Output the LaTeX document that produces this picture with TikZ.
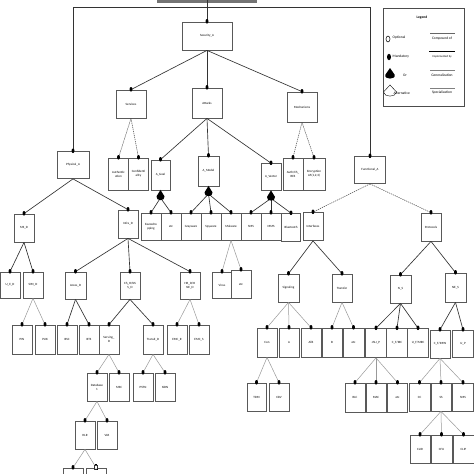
\documentclass[tikz,border=0pt]{standalone}
\usepackage{fontspec}
\setmainfont{Carlito}
\usetikzlibrary{calc}
\tikzset{
 box/.style={draw=black!65, line width=0.8pt, fill=white, inner sep=0.3pt, align=center, font=\fontsize{3.2}{3.9}\selectfont},
 dk/.style={draw=black!80, line width=0.65pt},
 lt/.style={draw=black!40, line width=0.5pt},
 dsh/.style={draw=black!70, line width=0.55pt, dash pattern=on 1.2pt off 0.9pt},
 lg/.style={font=\fontsize{3.6}{4.2}\selectfont, inner sep=0.5pt}
}
\newcommand\bx[6]{\node[box, minimum width=#4pt, minimum height=#5pt] (#1) at (#2,#3) {#6};}
\newcommand\mand[1]{\fill[black] ($(#1.north)+(0,-0.3)$) ellipse (1.5pt and 2.3pt);}
\newcommand\orpt[1]{\coordinate (#1-or) at ($(#1.south)+(0,7.5)$);}
\newcommand\ormark[1]{\fill[black] ($(#1.south)+(0,-0.5)$) -- ++(-4,6.5) .. controls +(-1,5) and +(1,5) .. ++(8,0) -- cycle;}
\begin{document}
\begin{tikzpicture}[x=1pt,y=-1pt]
\clip (0,0) rectangle (474,474);
\fill[white] (0,0) rectangle (474,474);
% frame
\fill[black!55] (157,0) rectangle (257,3);
\coordinate (top) at (207,0);
\coordinate (fl) at (73,7);
\coordinate (fr) at (370,7);
\draw[dk] (fl) -- (fr);
% level 1
\bx{sec}{207}{36}{50}{28}{Security\_A}
\bx{serv}{131}{104}{30}{28}{Services}
\bx{att}{207}{103}{30}{30}{Attacks}
\bx{mech}{302}{107}{30}{30}{Mechanisms}
\bx{phys}{73}{165}{32}{27}{Physical\_A}
\bx{func}{370}{170}{31}{27}{Functional\_A}
% level 2
\bx{auth}{118.5}{174}{20}{32}{Authentic\\ation}
\bx{conf}{138.5}{174}{20}{32}{Confidenti\\ality}
\bx{agoal}{160.5}{175}{19}{30}{A\_Goal}
\bx{amodel}{208.5}{171}{21}{30}{A\_Model}
\bx{avec}{271}{177}{20}{27}{A\_Vector}
\bx{authch}{293}{174}{20}{32}{Auth/Ch\_\\RES}
\bx{enc}{314}{174}{22}{32}{Encryption\\A5(1,2,3)}
% level 3
\bx{msd}{24}{228}{20}{28}{MS\_D}
\bx{infra}{128}{224}{20}{28}{Infra\_D}
\bx{eaves}{151}{226.5}{20}{27}{Eavesdro\\pping}
\bx{etca}{171}{226.5}{20}{27}{etc}
\bx{gray}{191}{226.5}{20}{27}{Grayware}
\bx{spy}{211}{226.5}{20}{27}{Spyware}
\bx{mal}{231}{226.5}{20}{27}{Malware}
\bx{sms}{251}{226.5}{20}{27}{SMS}
\bx{mms}{271}{226.5}{20}{27}{MMS}
\bx{blue}{291}{227.5}{19}{28}{Bluetooth}
\bx{iface}{313}{226.5}{20}{28}{Interfaces}
\bx{proto}{431}{227}{20}{28}{Protocols}
% level 4
\bx{ued}{10}{285}{20}{26}{U\_E\_D}
\bx{simd}{33}{285}{20}{26}{SIM\_D}
\bx{acces}{75.5}{285.5}{21}{27}{Acces\_D}
\bx{ch}{130}{285.5}{20}{27}{Ch\_O/NS\\S\_D}
\bx{hr}{190}{285.5}{20}{27}{HR\_D/O\\NE\_D}
\bx{virus}{222}{285}{20}{26}{Virus}
\bx{etcb}{241}{284}{20}{28}{etc}
\bx{sig}{288.5}{288}{21}{28}{Signaling}
\bx{trans}{342}{288}{20}{28}{Transfer}
\bx{ns}{400.5}{289}{21}{28}{N\_S}
\bx{nes}{455.5}{287.5}{21}{29}{NE\_S}
% level 5
\bx{pin}{22}{339.5}{20}{29}{PIN}
\bx{puk}{45}{339.5}{20}{29}{PUK}
\bx{bsc}{67}{339.5}{20}{29}{BSC}
\bx{bts}{89}{339.5}{20}{29}{BTS}
\bx{serving}{109}{339.5}{20}{29}{Serving\_\\D}
\bx{transit}{153}{339.5}{20}{29}{Transit\_D}
\bx{emcr}{177}{339.5}{20}{29}{EMC\_R}
\bx{emcs}{199}{339.5}{20}{29}{EMC\_S}
\bx{con}{267}{342.5}{20}{29}{Con}
\bx{a}{289}{342.5}{20}{29}{A}
\bx{alls}{311}{342.5}{20}{29}{AllS}
\bx{b}{332}{342.5}{20}{29}{B}
\bx{etcc}{353.5}{342.5}{21}{29}{etc}
\bx{csli}{376}{343}{21}{29}{cSLI\_P}
\bx{cf}{397}{343}{21}{29}{C\_F/IBC}
\bx{uf}{418}{343}{21}{29}{U\_F/MRC}
\bx{cfimw}{440}{344}{20}{28}{C\_F/IMW}
\bx{up}{463}{343.5}{21}{27}{U\_P}
% level 6
\bx{db}{97}{387}{20}{28}{Database\\1}
\bx{msc}{119}{387}{20}{28}{MSC}
\bx{pstn}{143}{387}{20}{28}{PSTN}
\bx{isdn}{165}{387}{20}{28}{ISDN}
\bx{tdm}{256.5}{397}{19}{28}{TDM}
\bx{cdv}{279}{397}{20}{28}{CDV}
\bx{rlc}{355}{397.5}{20}{29}{RLC}
\bx{mac}{376}{397.5}{20}{29}{MAC}
\bx{etcd}{397.5}{397.5}{20}{29}{etc}
\bx{cc}{419.5}{397}{21}{28}{CC}
\bx{ss}{441}{397}{20}{28}{SS}
\bx{smsb}{463}{397}{21}{28}{SMS}
% level 7
\bx{hlr}{85}{435}{20}{28}{HLR}
\bx{vlr}{107}{435}{20}{28}{VLR}
\bx{clir}{420}{449}{20}{28}{CLIR}
\bx{cfu}{441.5}{449}{21}{28}{CFU}
\bx{clip}{463.5}{449}{21}{28}{CLIP}
% level 8
\bx{ba}{73}{482}{20}{28}{}
\bx{bb}{96}{482}{20}{28}{}
% or points
\orpt{agoal}
\orpt{amodel}
\orpt{avec}
% connectors
\draw[dk] (top) -- (sec.north);
\draw[dk] (fl) -- (phys.north);
\draw[dk] (fr) -- (func.north);
\foreach \c in {serv,att,mech} \draw[dk] (sec.south) -- (\c.north);
\foreach \c in {agoal,amodel,avec} \draw[dk] (att.south) -- (\c.north);
\foreach \c in {auth,conf} \draw[dsh] (serv.south) -- (\c.north);
\foreach \c in {authch,enc} \draw[dsh] (mech.south) -- (\c.north);
\foreach \c in {iface,proto} \draw[dsh] (func.south) -- (\c.north);
\foreach \c in {eaves,etca} \draw[dk] (agoal-or) -- (\c.north);
\foreach \c in {gray,spy,mal} \draw[dk] (amodel-or) -- (\c.north);
\foreach \c in {sms,mms,blue} \draw[dk] (avec-or) -- (\c.north);
\foreach \c in {msd,infra} \draw[dk] (phys.south) -- (\c.north);
\foreach \c in {ued,simd} \draw[dk] (msd.south) -- (\c.north);
\foreach \c in {acces,ch,hr} \draw[dk] (infra.south) -- (\c.north);
\foreach \c in {bsc,bts} \draw[dk] (acces.south) -- (\c.north);
\foreach \c in {serving,transit} \draw[dk] (ch.south) -- (\c.north);
\foreach \c in {sig,trans} \draw[dk] (iface.south) -- (\c.north);
\foreach \c in {ns,nes} \draw[dk] (proto.south) -- (\c.north);
\foreach \c in {csli,cf,uf} \draw[dk] (ns.south) -- (\c.north);
\foreach \c in {cfimw,up} \draw[dk] (nes.south) -- (\c.north);
\foreach \c in {pin,puk} \draw[lt] (simd.south) -- (\c.north);
\foreach \c in {emcr,emcs} \draw[lt] (hr.south) -- (\c.north);
\foreach \c in {db,msc} \draw[lt] (serving.south) -- (\c.north);
\foreach \c in {pstn,isdn} \draw[lt] (transit.south) -- (\c.north);
\foreach \c in {hlr,vlr} \draw[lt] (db.south) -- (\c.north);
\foreach \c in {ba,bb} \draw[lt] (hlr.south) -- (\c.north);
\foreach \c in {virus,etcb} \draw[lt] (mal.south) -- (\c.north);
\foreach \c in {con,a,alls} \draw[lt] (sig.south) -- (\c.north);
\foreach \c in {b,etcc} \draw[lt] (trans.south) -- (\c.north);
\foreach \c in {tdm,cdv} \draw[lt] (con.south) -- (\c.north);
\foreach \c in {rlc,mac,etcd} \draw[lt] (csli.south) -- (\c.north);
\foreach \c in {cc,ss,smsb} \draw[lt] (cfimw.south) -- (\c.north);
\foreach \c in {clir,cfu,clip} \draw[lt] (ss.south) -- (\c.north);
% or markers (over the lines)
\ormark{agoal}
\ormark{amodel}
\ormark{avec}
% mandatory markers
\foreach \c in {sec,serv,att,mech,phys,func,auth,conf,agoal,amodel,avec,authch,enc,
 msd,infra,eaves,etca,gray,spy,mal,sms,mms,blue,iface,proto,
 ued,simd,acces,ch,hr,virus,etcb,sig,trans,ns,nes,
 pin,puk,bsc,bts,serving,transit,emcr,emcs,con,a,alls,b,etcc,csli,cf,uf,cfimw,up,
 db,msc,pstn,isdn,tdm,cdv,rlc,mac,etcd,cc,ss,smsb,hlr,vlr,clir,cfu,clip,ba} \mand{\c}
\draw[black, fill=white, line width=0.4pt] ($(bb.north)+(0,-0.3)$) ellipse (1.5pt and 2.3pt);
% legend
\draw[black!70, line width=0.8pt] (383,8) rectangle (464,106);
\node[lg] (lgt) at (422,18) {\textbf{Legend}};
\draw[black, line width=0.5pt] (388,39) ellipse (2pt and 3pt);
\node[lg, anchor=west] (lopt) at (392,38) {Optional};
\fill[black] (389,57) ellipse (2pt and 3.2pt);
\node[lg, anchor=west] (lman) at (392,57) {Mandatory};
\fill[black] (390,68) -- (385.5,74.5) .. controls (383,80) and (397,80) .. (394.5,74.5) -- cycle;
\node[lg] (lor) at (405,75) {Or};
\draw[black, line width=0.4pt, fill=white] (390,85) -- (383.5,92) .. controls (384,97.5) and (396,97.5) .. (396.5,92) -- cycle;
\node[lg, anchor=west] (lalt) at (393,93) {Alternative};
\node[lg] (lcomp) at (442,39) {Compound of};
\draw[black!60, line width=0.4pt] (430,33.5) -- (455,33.5);
\node[lg, font=\fontsize{2.9}{3.4}\selectfont] (limp) at (442,57) {Implemented by};
\draw[black, line width=0.8pt] (429,51.5) -- (455,51.5);
\node[lg] (lgen) at (442,75) {Generalization};
\draw[black!50, line width=0.4pt] (430,70) -- (455,70);
\node[lg] (lspe) at (442,93) {Specialization};
\draw[black!50, line width=0.4pt] (430,88) -- (455,88);
\end{tikzpicture}
\end{document}
